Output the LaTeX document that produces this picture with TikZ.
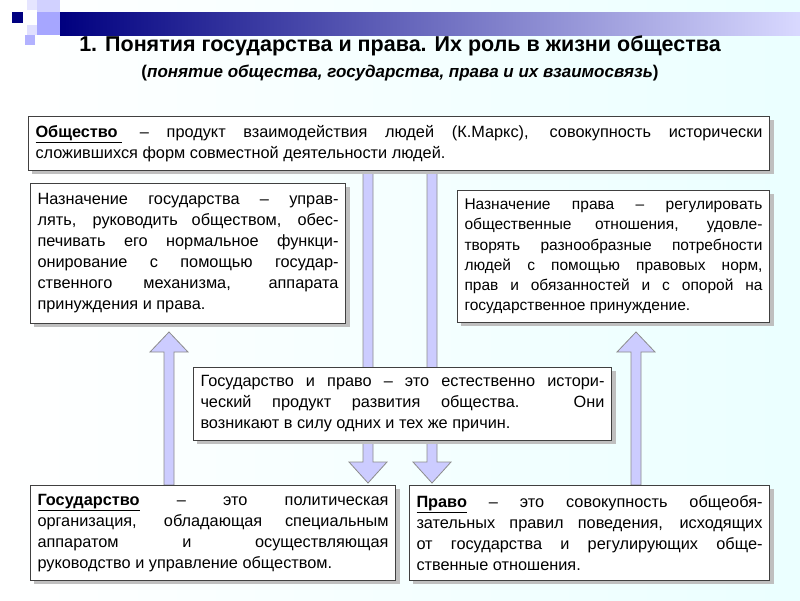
\documentclass[tikz,border=0pt]{standalone}
\usepackage{fontspec}
\setmainfont{Liberation Sans}
\begin{document}
\begin{tikzpicture}[x=1pt,y=-1pt,
  box/.style={draw=black!75,line width=1pt,fill=white,anchor=north west,inner xsep=7pt,inner ysep=4pt,align=justify,font=\fontsize{16.3}{21}\selectfont},
  arr/.style={draw=black!45,line width=0.8pt,fill=blue!20!white}]
\newcommand{\jl}[1]{\noindent#1{\parfillskip=0pt\par}}
\shade[left color=white,right color=cyan!8] (0,0) rectangle (800,600);
\useasboundingbox (0,0) rectangle (800,600);
% header
\shade[left color=blue!50!black,right color=blue!15!white] (60,12) rectangle (800,35);
\fill[blue!50!black] (12,12) rectangle (23,23);
\fill[blue!18] (37,0) rectangle (60,12);
\fill[blue!35] (37,12) rectangle (60,35);
\fill[blue!12] (27,25) rectangle (37,35);
\fill[blue!30] (25,35) rectangle (35,45);
\fill[blue!10] (27,0) rectangle (37,10);
\node[font=\fontsize{21.5}{24}\selectfont\bfseries] (title) at (400,46) {1. Понятия государства и права. Их роль в жизни общества};
\node[font=\fontsize{17}{20}\selectfont\bfseries] (sub) at (400,73) {(\textit{понятие общества, государства, права и их взаимосвязь})};
% arrows
\foreach \cx in {368,432}{
 \draw[arr] (\cx-5,172) -- (\cx+5,172) -- (\cx+5,462) -- (\cx+19,462) -- (\cx,483) -- (\cx-19,462) -- (\cx-5,462) -- cycle;}
\foreach \cx in {169,636}{
 \draw[arr] (\cx-5,485) -- (\cx+5,485) -- (\cx+5,352) -- (\cx+19,352) -- (\cx,332) -- (\cx-19,352) -- (\cx-5,352) -- cycle;}
% shadows + boxes
\foreach \a/\b/\c/\d in {28/116/770/170,30/183/346/323,457/190/770/322,193/367/612/440,30/485/396/580,409/485/770/580}
  \fill[black!25] (\a+4,\b+4) rectangle (\c+4,\d+4);
\node[box,text width=727pt,minimum height=54pt] (soc) at (28,116) {\jl{\textbf{\underline{Общество }} – продукт взаимодействия людей (К.Маркс), совокупность исторически}сложившихся форм совместной деятельности людей.};
\node[box,text width=301pt,minimum height=140pt] (gp) at (30,183) {\jl{Назначение государства – управ-}\jl{лять, руководить обществом, обес-}\jl{печивать его нормальное функци-}\jl{онирование с помощью государ-}\jl{ственного механизма, аппарата}принуждения и права.};
\node[box,text width=298pt,minimum height=132pt,font=\fontsize{15.5}{20.3}\selectfont] (pp) at (457,190) {\jl{Назначение права – регулировать}\jl{общественные отношения, удовле-}\jl{творять разнообразные потребности}\jl{людей с помощью правовых норм,}\jl{прав и обязанностей и с опорой на}государственное принуждение.};
\node[box,text width=404pt,minimum height=73pt] (mid) at (193,367) {\jl{Государство и право – это естественно истори-}\jl{ческий продукт развития общества. Они}возникают в силу одних и тех же причин.};
\node[box,text width=351pt,minimum height=95pt] (st) at (30,485) {\jl{\textbf{\underline{Государство}} – это политическая}\jl{организация, обладающая специальным}\jl{аппаратом и осуществляющая}руководство и управление обществом.};
\node[box,text width=346pt,minimum height=95pt] (law) at (409,485) {\jl{\textbf{\underline{Право}} – это совокупность общеобя-}\jl{зательных правил поведения, исходящих}\jl{от государства и регулирующих обще-}ственные отношения.};
\end{tikzpicture}
\end{document}
